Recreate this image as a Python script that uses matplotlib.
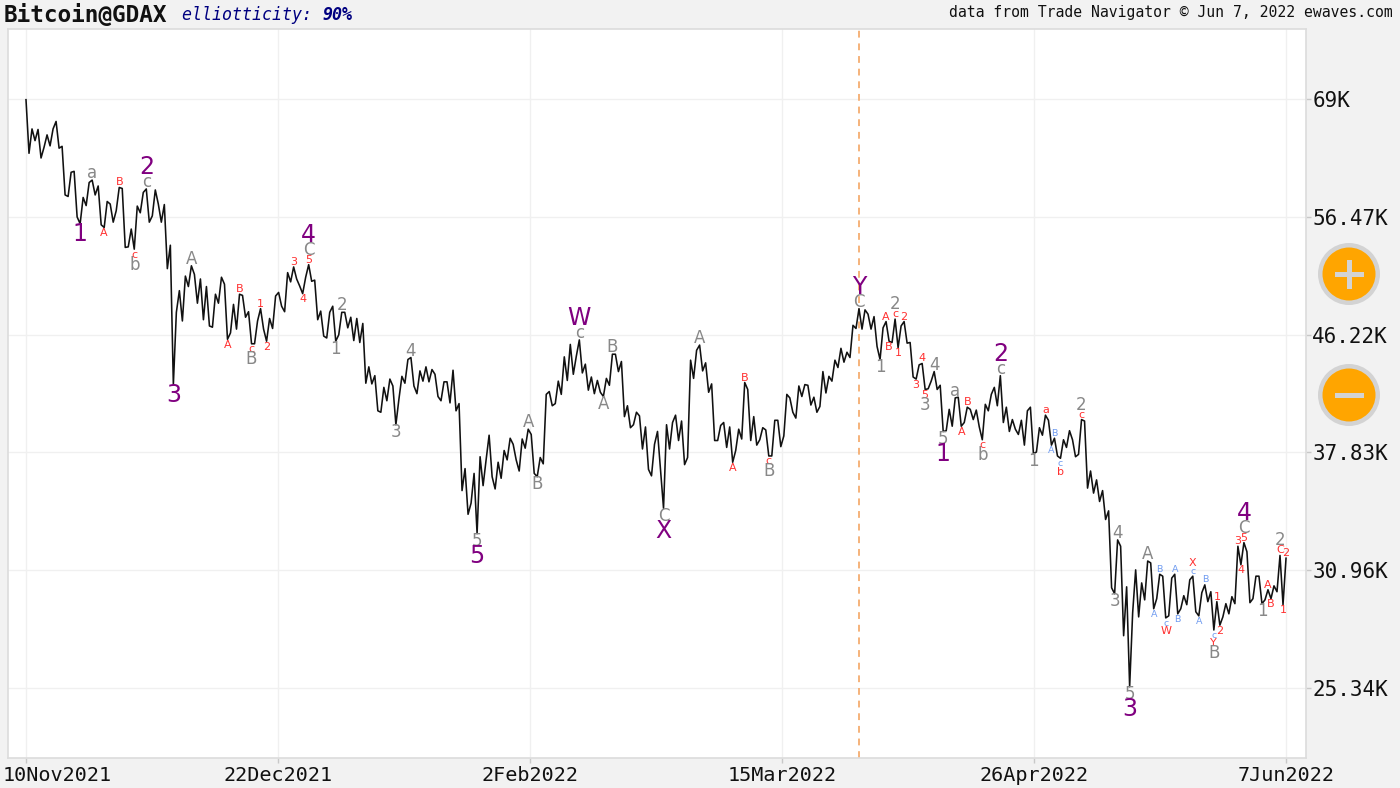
import numpy as np
import matplotlib
matplotlib.use("Agg")
import matplotlib.pyplot as plt
from matplotlib.patches import Circle, Rectangle
from matplotlib.ticker import FixedLocator, FixedFormatter, NullLocator
from matplotlib.transforms import IdentityTransform, ScaledTranslation

# 12h closes, in thousands of USD
close_nov_dec = [
    68.9, 62.9, 65.56, 64.27, 65.5, 62.4, 63.55, 64.9, 63.7, 65.56,
    66.4, 63.45, 63.65, 58.6, 58.45, 60.9, 61.0, 56.45, 55.8, 58.35,
    57.55, 59.85, 60.1, 58.6, 59.5, 55.7, 55.45, 57.95, 57.7, 55.95,
    57.05, 59.35, 59.25, 53.6, 53.65, 55.3, 53.44, 57.5, 56.85, 58.85,
    59.2, 55.95, 56.55, 59.1, 57.7, 55.95, 57.65, 51.7, 53.8, 42.45,
    48.0, 49.8, 47.3, 51.05, 50.15, 51.95, 51.2, 48.75, 50.8, 47.4,
    50.15, 46.9, 46.8, 49.5, 48.75, 50.95, 50.35, 45.85, 46.35, 48.65,
    46.65, 49.5, 49.4, 47.6, 48.05, 45.5, 45.5, 47.3, 48.3, 46.65,
    45.7, 47.5, 46.7, 49.35, 49.65, 48.5, 48.05, 51.35, 50.55, 51.85,
    50.8, 50.2, 49.55, 50.95, 52.05, 50.6, 50.7, 47.4, 48.1, 46.1,
    45.95, 48.0, 48.5, 45.7, 46.2, 48.0, 48.0, 46.75,
]
close_jan_feb = [
    47.6, 45.75, 47.5, 45.6, 47.1, 42.55, 43.75, 42.5, 43.1, 40.6,
    40.5, 42.25, 41.3, 42.85, 42.35, 39.65, 41.4, 43.05, 42.55, 44.3,
    44.45, 42.35, 41.8, 43.45, 42.7, 43.75, 42.65, 43.55, 43.2, 41.6,
    41.3, 42.65, 42.65, 41.15, 43.5, 40.6, 41.1, 35.45, 36.8, 34.05,
    34.7, 36.5, 32.95, 37.55, 35.75, 37.35, 38.95, 36.3, 35.55, 37.2,
    36.2, 37.95, 37.35, 38.75, 38.35, 37.35, 36.65, 38.7, 38.1, 39.35,
    39.0, 36.5, 36.3, 37.5, 37.1, 41.75, 41.95, 40.95, 41.1, 42.7,
    41.75, 44.5, 42.75, 45.45, 43.2, 44.55, 45.8, 43.3, 43.95, 42.05,
    43.0, 41.8, 42.75, 41.9, 41.6, 42.9, 42.4, 44.7, 44.7, 43.4,
    44.15, 40.2, 40.95, 39.45, 39.65, 40.5, 40.25, 38.05, 39.5, 36.75,
    36.35, 38.35, 39.2, 36.75, 34.4,
]
close_feb_apr = [
    39.65, 38.05, 39.8, 40.3, 38.6, 39.9, 37.05, 37.5, 44.25, 42.9,
    45.0, 45.4, 43.45, 44.05, 41.9, 42.5, 38.6, 38.6, 39.6, 39.8,
    38.15, 39.5, 37.2, 37.95, 39.35, 38.7, 42.6, 42.1, 38.6, 40.2,
    38.3, 38.65, 39.45, 39.3, 37.6, 37.6, 39.95, 39.95, 38.2, 38.9,
    41.75, 41.5, 40.5, 40.1, 42.35, 41.6, 42.45, 42.4, 41.0, 41.55,
    40.5, 40.9, 43.4, 41.85, 43.05, 42.7, 44.25, 43.7, 45.15, 44.1,
    44.85, 44.45, 46.95, 46.7, 48.3, 46.65, 48.2, 47.85, 46.65, 47.65,
    45.3, 44.3, 46.75, 47.25, 45.7, 45.6, 47.45, 45.2, 46.9, 47.25,
    45.55, 45.6, 43.0, 42.85, 43.9, 44.0, 42.1, 42.15, 42.7, 43.4,
    42.1, 42.4, 39.2, 39.25, 40.7, 39.55, 41.5, 41.55, 39.55, 39.8,
    40.85, 40.7, 40.0, 40.65, 39.5, 38.65,
]
close_apr_jun = [
    41.05, 40.6, 41.75, 42.25, 40.95, 43.1, 39.8, 40.85, 39.2, 40.0,
    39.35, 39.0, 39.95, 38.3, 40.6, 40.85, 37.75, 37.85, 39.45, 38.95,
    40.3, 39.95, 38.3, 38.75, 37.6, 37.45, 38.65, 38.15, 39.25, 38.65,
    37.55, 37.7, 40.0, 39.9, 35.6, 36.65, 35.3, 36.1, 34.8, 35.45,
    33.75, 34.25, 30.05, 29.75, 32.6, 32.25, 27.7, 30.1, 25.4, 28.8,
    30.98, 28.6, 30.3, 29.44, 31.45, 31.35, 29.0, 29.5, 30.75, 30.65,
    28.55, 28.65, 30.55, 30.75, 28.75, 29.0, 29.65, 29.2, 30.46, 30.65,
    28.85, 28.65, 29.8, 30.2, 29.35, 29.85, 27.97, 29.35, 28.2, 28.6,
    29.25, 28.75, 29.6, 29.25, 32.25, 31.25, 32.45, 31.95, 29.3, 29.5,
    30.65, 30.65, 29.25, 29.44, 29.95, 29.5, 30.15, 29.85, 31.75, 29.2, 31.6,
]

price_ticks = [69, 56.47, 46.22, 37.83, 30.96, 25.34]
price_labels = ["69K", "56.47K", "46.22K", "37.83K", "30.96K", "25.34K"]
date_ticks = [0, 42, 84, 126, 168, 210]
date_labels = ["10Nov2021", "22Dec2021", "2Feb2022", "15Mar2022", "26Apr2022", "7Jun2022"]
total_days = 210
marker_bar = 277

# wave labels: (bar, text, side), side 1 is above the line, -1 below
waves_primary = [
    (18, "1", -1), (40, "2", 1), (49, "3", -1), (94, "4", 1), (150, "5", -1),
    (184, "W", 1), (212, "X", -1), (277, "Y", 1), (305, "1", -1), (324, "2", 1),
    (367, "3", -1), (405, "4", 1),
]
waves_grey = [
    (22, "a", 1), (36, "b", -1), (40, "c", 1), (55, "A", 1), (75, "B", -1),
    (94, "C", 1), (103, "1", -1), (105, "2", 1), (123, "3", -1), (128, "4", 1),
    (150, "5", -1), (167, "A", 1), (170, "B", -1), (184, "c", 1), (192, "A", -1),
    (195, "B", 1), (212, "C", -1), (224, "A", 1), (247, "B", -1), (277, "C", 1),
    (284, "1", -1), (289, "2", 1), (299, "3", -1), (302, "4", 1), (305, "5", -1),
    (309, "a", 1), (318, "b", -1), (324, "c", 1), (335, "1", -1), (351, "2", 1),
    (362, "3", -1), (363, "4", 1), (367, "5", -1), (373, "A", 1), (395, "B", -1),
    (405, "C", 1), (411, "1", -1), (417, "2", 1),
]
waves_red = [
    (26, "A", -1), (31, "B", 1), (36, "c", -1), (67, "A", -1), (71, "B", 1),
    (75, "c", -1), (78, "1", 1), (80, "2", -1), (89, "3", 1), (92, "4", -1),
    (94, "5", 1), (235, "A", -1), (239, "B", 1), (247, "c", -1), (286, "A", 1),
    (287, "B", -1), (289, "c", 1), (290, "1", -1), (292, "2", 1), (296, "3", -1),
    (298, "4", 1), (299, "5", -1), (311, "A", -1), (313, "B", 1), (318, "c", -1),
    (339, "a", 1), (344, "b", -1), (351, "c", 1), (379, "W", -1), (388, "X", 1),
    (395, "Y", -1), (396, "1", 1), (397, "2", -1), (403, "3", 1), (404, "4", -1),
    (405, "5", 1), (413, "A", 1), (414, "B", -1), (417, "C", 1), (418, "1", -1),
    (419, "2", 1),
]
waves_blue = [
    (341, "A", -1), (342, "B", 1), (344, "c", -1), (375, "A", -1), (377, "B", 1),
    (379, "c", -1), (382, "A", 1), (383, "B", -1), (388, "c", 1), (390, "A", -1),
    (392, "B", 1), (395, "c", -1),
]

close = np.array(close_nov_dec + close_jan_feb + close_feb_apr + close_apr_jun)
days = np.arange(len(close)) * total_days / (len(close) - 1)

bg = "#f2f2f2"
fig = plt.figure(figsize=(14, 7.88), dpi=100, facecolor=bg)
ax = fig.add_axes([8 / 1400, 30 / 788, 1298 / 1400, 729 / 788])
ax.set_yscale("log")
ax.set_xlim(-3, 213.33)
ax.set_ylim(22.5, 77.7)

ax.grid(True, color="#f0f0f0", lw=1)
ax.set_axisbelow(True)
for s in ax.spines.values():
    s.set_color("#dcdcdc")
    s.set_linewidth(1.2)

ax.axvline(days[marker_bar], color="#f5b27a", ls=(0, (3.5, 3)), lw=1.4, zorder=1)
ax.plot(days, close, color="#111111", lw=1.15, zorder=2)

ax.yaxis.tick_right()
ax.yaxis.set_major_locator(FixedLocator(price_ticks))
ax.yaxis.set_major_formatter(FixedFormatter(price_labels))
ax.yaxis.set_minor_locator(NullLocator())
ax.set_xticks(date_ticks)
ax.set_xticklabels(date_labels)
ax.tick_params(axis="both", length=3.6, width=1, color="#c8c8c8", labelcolor="#111111")
ax.tick_params(axis="y", labelsize=15, pad=1, labelfontfamily="DejaVu Sans Mono")
ax.tick_params(axis="x", labelsize=14.5, pad=2, labelfontfamily="DejaVu Sans Mono")
# first date gets pushed in so it stays on the canvas
first = ax.get_xticklabels()[0]
first.set_transform(first.get_transform() + ScaledTranslation(31.5 / 100, 0, fig.dpi_scale_trans))

# smallest degree first, bigger degrees stack further from the line
degrees = [
    (waves_blue, 6.8, "#6f9bf0", 8),
    (waves_red, 8, "#ff3030", 8),
    (waves_grey, 12, "#888888", 12),
    (waves_primary, 17, "#800080", 18),
]
used = {}
for waves, size, color, height in degrees:
    for bar, text, side in waves:
        off = used.get((bar, side), 1 if side > 0 else 1.5)
        ax.annotate(text, (days[bar], close[bar]), xytext=(0, side * (off + height / 2)),
                    textcoords="offset pixels", ha="center", va="center",
                    fontsize=size, color=color, zorder=3)
        used[(bar, side)] = off + height

# header
fig.text(4 / 1400, 1 - 15 / 788, "Bitcoin@GDAX", fontfamily="DejaVu Sans Mono", fontweight="bold",
         fontsize=16.3, color="#111111", va="center")
fig.text(182 / 1400, 1 - 15 / 788, "elliotticity: ", fontfamily="DejaVu Sans Mono", fontstyle="italic",
         fontsize=12, color="#000080", va="center")
fig.text(323 / 1400, 1 - 15 / 788, "90%", fontfamily="DejaVu Sans Mono", fontstyle="italic",
         fontweight="bold", fontsize=12, color="#000080", va="center")
fig.text(1393 / 1400, 1 - 13 / 788, "data from Trade Navigator \u00a9 Jun 7, 2022 ewaves.com",
         fontfamily="DejaVu Sans Mono", fontsize=10.65, color="#111111", ha="right", va="center")

# zoom buttons, drawn in pixels
for cy, is_plus in [(274, True), (395, False)]:
    y0 = 788 - cy
    fig.add_artist(Circle((1349, y0), 31, transform=IdentityTransform(), fc="#d3d3d3", ec="none"))
    fig.add_artist(Circle((1349, y0), 26.5, transform=IdentityTransform(), fc="#ffa500", ec="none"))
    fig.add_artist(Rectangle((1334.5, y0 - 2.5), 29, 5, transform=IdentityTransform(), fc="#d3d3d3", ec="none"))
    if is_plus:
        fig.add_artist(Rectangle((1346.5, y0 - 14.5), 5, 29, transform=IdentityTransform(), fc="#d3d3d3", ec="none"))

fig.savefig("out.png", dpi=100, facecolor=bg)
